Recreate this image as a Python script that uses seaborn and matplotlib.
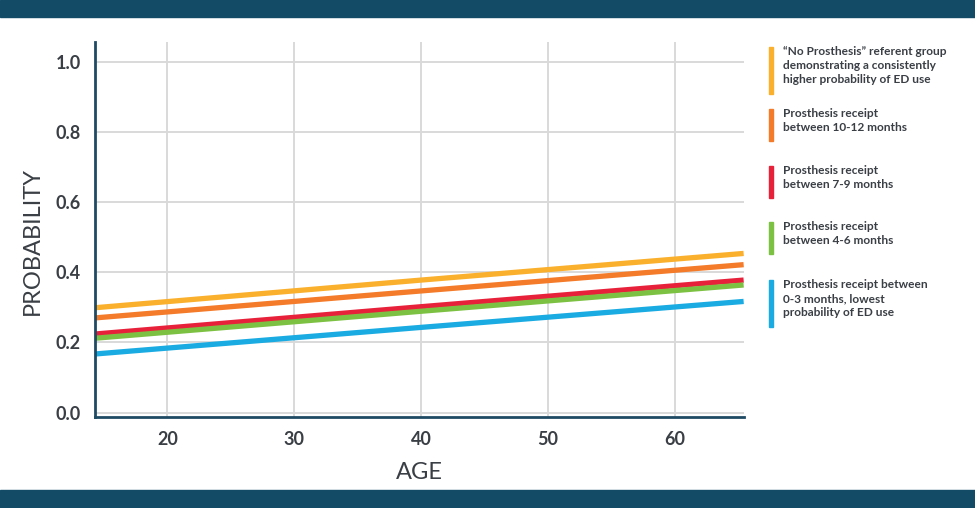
import numpy as np
import pandas as pd
import matplotlib.pyplot as plt
from matplotlib.patches import Rectangle
import seaborn as sns

# values
ages = [14.3, 40, 65.4]
no_prosthesis = [0.299, 0.378, 0.454]
months_10_12 = [0.270, 0.347, 0.422]
months_7_9 = [0.224, 0.302, 0.378]
months_4_6 = [0.212, 0.289, 0.364]
months_0_3 = [0.167, 0.243, 0.317]

groups = ["No Prosthesis", "10-12", "7-9", "4-6", "0-3"]
colors = ["#FBB02D", "#F47B2A", "#E8213A", "#7DC143", "#1AABE2"]
legend_texts = [
    "\u201cNo Prosthesis\u201d referent group\ndemonstrating a consistently\nhigher probability of ED use",
    "Prosthesis receipt\nbetween 10-12 months",
    "Prosthesis receipt\nbetween 7-9 months",
    "Prosthesis receipt\nbetween 4-6 months",
    "Prosthesis receipt between\n0-3 months, lowest\nprobability of ED use",
]

series = [no_prosthesis, months_10_12, months_7_9, months_4_6, months_0_3]
df = pd.concat(
    [pd.DataFrame({"age": ages, "prob": vals, "group": g}) for g, vals in zip(groups, series)],
    ignore_index=True,
)

sns.set_style("white")
plt.rcParams["font.family"] = ["Lato", "DejaVu Sans"]

navy = "#134B66"
text_col = "#3A3F45"

fig = plt.figure(figsize=(9.75, 5.08), dpi=100)
ax = fig.add_axes([0.0974, 0.179, 0.6653, 0.738])

sns.lineplot(data=df, x="age", y="prob", hue="group", palette=dict(zip(groups, colors)),
             linewidth=3.8, legend=False, ax=ax, solid_capstyle="butt")

ax.set_xlim(14.3, 65.4)
ax.set_ylim(-0.013, 1.057)
ax.set_xticks([20, 30, 40, 50, 60])
ax.set_yticks([0.0, 0.2, 0.4, 0.6, 0.8, 1.0])
ax.set_yticklabels(["0.0", "0.2", "0.4", "0.6", "0.8", "1.0"])
ax.grid(True, color="#D9D9D9", linewidth=1.4)
ax.set_axisbelow(True)
for s in ["top", "right"]:
    ax.spines[s].set_visible(False)
for s in ["left", "bottom"]:
    ax.spines[s].set_color("#1E4A63")
    ax.spines[s].set_linewidth(2)
ax.tick_params(length=0, labelsize=13, labelcolor=text_col, pad=10)
for lab in ax.get_xticklabels() + ax.get_yticklabels():
    lab.set_fontweight("bold")
ax.set_xlabel("AGE", fontsize=17, color=text_col, labelpad=10)
ax.set_ylabel("PROBABILITY", fontsize=17, color=text_col)
ax.yaxis.set_label_coords(-0.081, 0.47)

# custom legend on the right
tops = [47, 109, 166, 222, 280]
for top, txt, c in zip(tops, legend_texts, colors):
    nlines = txt.count("\n") + 1
    h = 15 * nlines + 2
    fig.patches.append(Rectangle((769 / 975, 1 - (top + h) / 508), 4 / 975, h / 508,
                                 transform=fig.transFigure, color=c, zorder=3))
    fig.text(783 / 975, 1 - (top - 1) / 508, txt, fontsize=8.6, fontweight="bold",
             color=text_col, va="top", ha="left", linespacing=1.35)

# top and bottom bands
fig.patches.append(Rectangle((0, 1 - 17 / 508), 1, 17 / 508, transform=fig.transFigure,
                             color=navy, zorder=0))
fig.patches.append(Rectangle((0, 0), 1, 18 / 508, transform=fig.transFigure,
                             color=navy, zorder=0))

fig.savefig("out.png", dpi=100)
